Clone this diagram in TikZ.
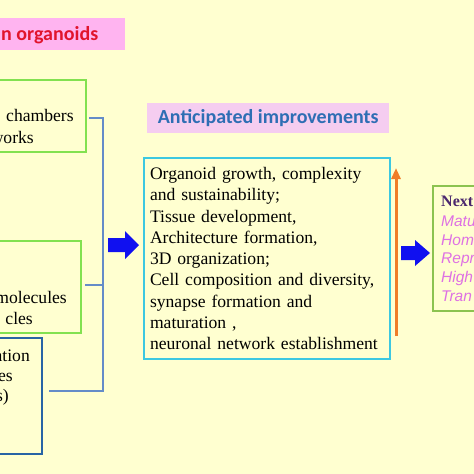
\documentclass[tikz,border=0pt]{standalone}
\usepackage{fontspec}
\setmainfont{Liberation Serif}
\newfontfamily\carlito{Carlito}
\newfontfamily\arialf{Liberation Sans}
\usetikzlibrary{arrows.meta}
\definecolor{bgc}{RGB}{255,255,208}
\definecolor{arrowblue}{RGB}{16,16,240}
\definecolor{orangec}{RGB}{240,125,40}
\definecolor{connc}{RGB}{100,140,200}
\definecolor{cyanc}{RGB}{60,200,225}
\definecolor{lgreen}{RGB}{130,225,80}
\definecolor{dblue}{RGB}{40,100,165}
\definecolor{ogreen}{RGB}{140,195,80}
\definecolor{pinkA}{RGB}{255,180,240}
\definecolor{pinkB}{RGB}{245,205,240}
\definecolor{redt}{RGB}{225,20,45}
\definecolor{bluet}{RGB}{46,110,180}
\definecolor{purplet}{RGB}{75,40,110}
\definecolor{pinkt}{RGB}{222,112,228}
\tikzset{
  boxline/.style={draw, line width=2pt, fill=none, inner sep=0pt, anchor=north west},
  sertext/.style={inner sep=0pt, font=\fontsize{17.6}{21.25}\selectfont},
  header/.style={fill=#1, draw=none, inner sep=0pt, font=\carlito\bfseries\fontsize{20}{23}\selectfont},
  conn/.style={draw=connc, line width=2.5pt},
  blockarrow/.style={fill=arrowblue, draw=none},
  itext/.style={inner sep=0pt, anchor=base west, text=pinkt, font=\arialf\itshape\fontsize{15.5}{18}\selectfont}
}
\begin{document}
\begin{tikzpicture}[x=1pt,y=-1pt]
\useasboundingbox (0,0) rectangle (474,474);
\fill[bgc] (0,0) rectangle (474,474);
\clip (0,0) rectangle (474,474);

% top-left header
\node[header=pinkA, anchor=north west, minimum width=145, minimum height=32] (hdrA) at (-20,18) {};
\node[inner sep=0pt, anchor=base west, text=redt, font=\carlito\bfseries\fontsize{20}{23}\selectfont] (hdrAt) at (1,40) {n organoids};

% left boxes
\node[boxline, draw=lgreen, minimum width=105, minimum height=72] (box1) at (-20,79) {};
\node[sertext, anchor=base west] (t1a) at (6,121) {chambers};
\node[sertext, anchor=base east] (t1b) at (34,143) {works};

\node[boxline, draw=lgreen, minimum width=100, minimum height=92] (box2) at (-20,240) {};
\node[sertext, anchor=base east] (t2a) at (67,303) {molecules};
\node[sertext, anchor=base east] (t2b) at (33,324) {cles};

\node[boxline, draw=dblue, minimum width=61, minimum height=116] (box3) at (-20,337) {};
\node[sertext, anchor=base east] (t3a) at (30,361) {ation};
\node[sertext, anchor=base east] (t3b) at (13,381) {es};
\node[sertext, anchor=base east] (t3c) at (9,401) {s)};

% connectors
\coordinate (spA) at (103,118);
\coordinate (spB) at (103,391);
\draw[conn] (box1.east |- spA) ++(2,0) -- (spA) -- (spB) -- ([xshift=6pt]box3.east |- spB);
\draw[conn] ([xshift=3pt,yshift=2pt]box2.east) -- ++(17,0);

% block arrow 1
\fill[blockarrow] (108,238) -- (125,238) -- (125,231) -- (139,245) -- (125,259) -- (125,252) -- (108,252) -- cycle;

% anticipated improvements header
\node[header=pinkB, anchor=north west, minimum width=242, minimum height=30, text=bluet] (hdrB) at (147,103) {Anticipated improvements};

% central box
\node[boxline, draw=cyanc, minimum width=246, minimum height=201, text width=234, inner xsep=6pt, align=left, font=\fontsize{17.6}{21.25}\selectfont] (impr) at (143,157) {Organoid growth, complexity\\and sustainability;\\Tissue development,\\Architecture formation,\\3D organization;\\Cell composition and diversity,\\synapse formation and\\maturation ,\\neuronal network establishment};

% orange arrow
\coordinate (orB) at (396,336);
\coordinate (orT) at (396,168);
\draw[orangec, line width=3pt, -{Triangle[width=9pt,length=11pt]}] (orB) -- (orT);

% block arrow 2
\fill[blockarrow] (401,246) -- (415,246) -- (415,240) -- (430,253) -- (415,266) -- (415,260) -- (401,260) -- cycle;

% right box
\node[boxline, draw=ogreen, minimum width=60, minimum height=125] (nextb) at (432,185) {};
\node[inner sep=0pt, anchor=base west, text=purplet, font=\bfseries\fontsize{16}{19}\selectfont] (n0) at (441,206) {Next};
\node[itext] (n1) at (441,226.5) {Matu};
\node[itext] (n2) at (441,245) {Hom};
\node[itext] (n3) at (441,263.5) {Repr};
\node[itext] (n4) at (441,282.5) {High};
\node[itext] (n5) at (441,301.5) {Tran};
\end{tikzpicture}
\end{document}
